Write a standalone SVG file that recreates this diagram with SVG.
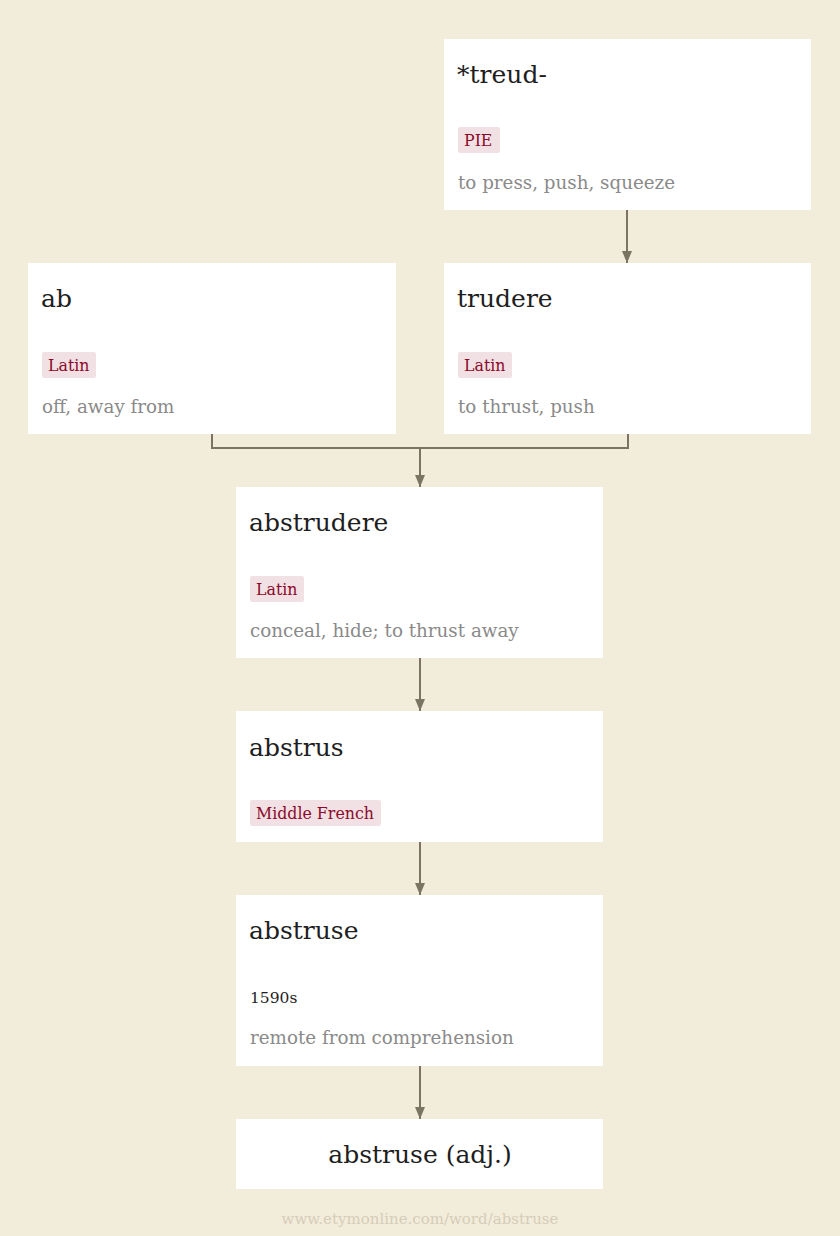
<svg xmlns="http://www.w3.org/2000/svg" width="840" height="1236" viewBox="0 0 840 1236">
<defs>
<style>
.bg{fill:#f2ecdb}
.node{fill:#ffffff}
.title{font-family:"DejaVu Serif","Liberation Serif",serif;font-size:25px;fill:#1e1e1e}
.tag{fill:#f1e1e4}
.tagt{font-family:"DejaVu Serif","Liberation Serif",serif;font-size:15.8px;fill:#8b0a2a}
.gloss{font-family:"DejaVu Serif","Liberation Serif",serif;font-size:18.3px;fill:#8a8a8a}
.date{font-family:"DejaVu Serif","Liberation Serif",serif;font-size:15.5px;fill:#1e1e1e}
.conn{fill:none;stroke:#7b7464;stroke-width:2}
.foot{font-family:"DejaVu Serif","Liberation Serif",serif;font-size:15px;fill:#d6cdb8}
</style>
<marker id="arr" viewBox="0 0 12 10" refX="12" refY="5" markerWidth="12" markerHeight="10" markerUnits="userSpaceOnUse" orient="auto">
<path d="M0,0 L12,5 L0,10 Z" fill="#7b7464"/>
</marker>
</defs>
<rect class="bg" x="0" y="0" width="840" height="1236"/>
<g id="connectors">
<path class="conn" d="M627,210 V263" marker-end="url(#arr)"/>
<path class="conn" d="M212,434 V448 H628 V434"/>
<path class="conn" d="M420,448 V487" marker-end="url(#arr)"/>
<path class="conn" d="M420,658 V711" marker-end="url(#arr)"/>
<path class="conn" d="M420,842 V895" marker-end="url(#arr)"/>
<path class="conn" d="M420,1066 V1119" marker-end="url(#arr)"/>
</g>
<g id="node-treud">
<rect class="node" x="444" y="39" width="367" height="171"/>
<text class="title" x="457" y="83">*treud-</text>
<rect class="tag" x="458" y="127" width="42" height="26" rx="2"/>
<text class="tagt" x="464" y="146">PIE</text>
<text class="gloss" x="458" y="189">to press, push, squeeze</text>
</g>
<g id="node-ab">
<rect class="node" x="28" y="263" width="368" height="171"/>
<text class="title" x="41" y="307">ab</text>
<rect class="tag" x="42" y="352" width="54" height="26" rx="2"/>
<text class="tagt" x="48" y="371">Latin</text>
<text class="gloss" x="42" y="413">off, away from</text>
</g>
<g id="node-trudere">
<rect class="node" x="444" y="263" width="367" height="171"/>
<text class="title" x="457" y="307">trudere</text>
<rect class="tag" x="458" y="352" width="54" height="26" rx="2"/>
<text class="tagt" x="464" y="371">Latin</text>
<text class="gloss" x="458" y="413">to thrust, push</text>
</g>
<g id="node-abstrudere">
<rect class="node" x="236" y="487" width="367" height="171"/>
<text class="title" x="249" y="531">abstrudere</text>
<rect class="tag" x="250" y="576" width="54" height="26" rx="2"/>
<text class="tagt" x="256" y="595">Latin</text>
<text class="gloss" x="250" y="637">conceal, hide; to thrust away</text>
</g>
<g id="node-abstrus">
<rect class="node" x="236" y="711" width="367" height="131"/>
<text class="title" x="249" y="756">abstrus</text>
<rect class="tag" x="250" y="800" width="131" height="26" rx="2"/>
<text class="tagt" x="256" y="819">Middle French</text>
</g>
<g id="node-abstruse">
<rect class="node" x="236" y="895" width="367" height="171"/>
<text class="title" x="249" y="939">abstruse</text>
<text class="date" x="250" y="1003">1590s</text>
<text class="gloss" x="250" y="1044">remote from comprehension</text>
</g>
<g id="node-abstruse-adj">
<rect class="node" x="236" y="1119" width="367" height="70"/>
<text class="title" x="420" y="1163" text-anchor="middle">abstruse (adj.)</text>
</g>
<text class="foot" x="420" y="1224" text-anchor="middle">www.etymonline.com/word/abstruse</text>
</svg>
